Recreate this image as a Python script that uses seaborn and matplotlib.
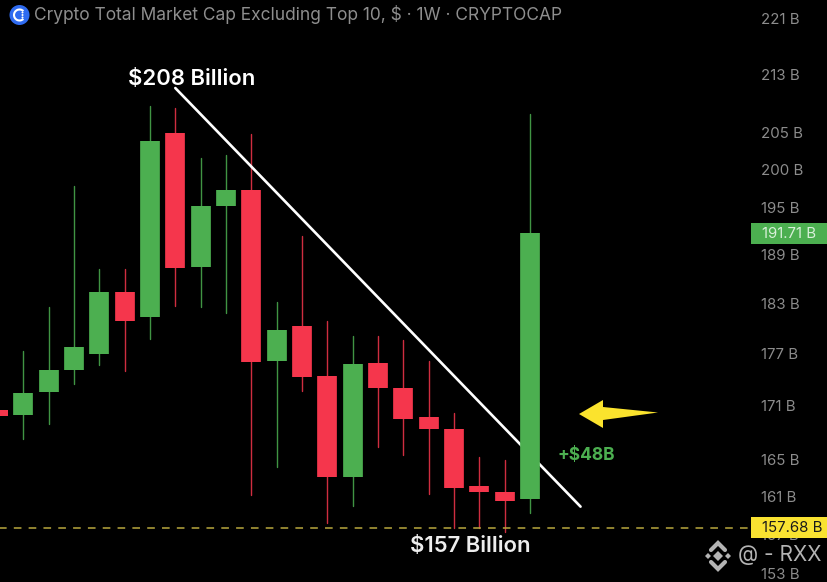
import matplotlib

matplotlib.use("Agg")
import matplotlib.pyplot as plt
import pandas as pd
import seaborn as sns
from matplotlib.patches import Arc, Circle, Polygon, Rectangle
from matplotlib.transforms import Affine2D

# weekly candles, values in billions of USD
weeks = list(range(22))
opens = [170.5, 169.9, 172.5, 175.1, 177.0, 184.4, 181.3, 204.9, 187.4, 195.2, 197.3,
         176.1, 180.3, 174.4, 163.1, 175.9, 173.0, 169.7, 168.3, 162.1, 161.5, 160.7]
closes = [169.8, 172.4, 175.1, 177.8, 184.4, 180.9, 203.8, 187.3, 195.2, 197.3, 176.0,
          179.8, 174.3, 163.1, 175.8, 173.0, 169.5, 168.3, 161.9, 161.5, 160.5, 191.7]
highs = [170.5, 177.3, 182.5, 197.8, 187.2, 187.2, 208.6, 208.3, 201.5, 201.9, 204.8,
         183.2, 191.4, 180.9, 179.1, 179.1, 178.6, 176.1, 170.1, 165.3, 164.9, 207.5]
lows = [169.8, 167.2, 168.9, 173.4, 175.6, 175.0, 178.7, 182.7, 182.5, 181.8, 161.1,
        164.2, 172.6, 158.2, 160.0, 166.4, 165.5, 161.3, 157.7, 157.7, 157.2, 159.2]

tick_values = [221, 213, 205, 200, 195, 189, 183, 177, 171, 165, 161, 157, 153]
tick_labels = [f"{v} B" for v in tick_values]
last_price = 191.71
support_price = 157.68
trend_weeks = [7, 23.0]
trend_values = [211.1, 159.9]

GREEN = "#4CAF50"
RED = "#F5364C"

candles = pd.DataFrame({"week": weeks, "open": opens, "close": closes, "high": highs, "low": lows})
candles["side"] = ["up" if c > o else "down" for o, c in zip(opens, closes)]
palette = {"up": GREEN, "down": RED}

wicks = candles.melt(id_vars=["week", "side"], value_vars=["low", "high"], value_name="price")
bodies = candles.melt(id_vars=["week", "side"], value_vars=["open", "close"], value_name="price")

sns.set_theme(style="dark", rc={"axes.facecolor": "black", "figure.facecolor": "black"})
plt.rcParams["font.family"] = ["Inter", "DejaVu Sans"]

fig = plt.figure(figsize=(8.28, 5.82), dpi=100)
ax = fig.add_axes([-20 / 828, 0, 848 / 828, 1])
# pixels from the top left corner, for the overlays drawn on the screenshot
px = Affine2D().scale(1, -1).translate(0, 582)

ax.set_yscale("log")
sns.lineplot(data=wicks, x="week", y="price", hue="side", palette=palette, units="week",
             estimator=None, linewidth=1.0, legend=False, ax=ax, zorder=2, alpha=0.85)
sns.lineplot(data=bodies, x="week", y="price", hue="side", palette=palette, units="week",
             estimator=None, linewidth=14.2, legend=False, ax=ax, zorder=4,
             solid_capstyle="butt")
# a line centred off the canvas gets dropped, so the cut off first candle is a bar
ax.bar(weeks[0], opens[0] - closes[0], bottom=closes[0], width=0.78, color=RED, linewidth=0, zorder=4)

ax.plot(trend_weeks, trend_values, color="white", linewidth=1.9, zorder=3, solid_capstyle="round")
ax.axhline(support_price, color="#B8A83E", linewidth=1.1, dashes=(5, 4.7), zorder=3)

ax.set_xlim(-0.711, 32.77)
ax.set_ylim(152.1, 223.8)
ax.set_xlabel("")
ax.set_ylabel("")
ax.set_xticks([])
ax.set_yticks(tick_values, tick_labels)
ax.minorticks_off()
ax.yaxis.tick_right()
ax.tick_params(axis="y", length=0, pad=-48, labelsize=10.8, labelcolor="#8C8C8C")
ax.grid(False)
for spine in ax.spines.values():
    spine.set_visible(False)

# price tags on the axis
ax.add_patch(Rectangle((751, 223), 77, 21, transform=px, facecolor=GREEN, edgecolor="none",
                       zorder=6, clip_on=False))
ax.text(762, 233.5, f"{last_price:.2f} B", transform=px, color="#D8EFD9", fontsize=10.8,
        va="center", zorder=7)
ax.add_patch(Rectangle((751, 517), 77, 21, transform=px, facecolor="#F9E231", edgecolor="none",
                       zorder=6, clip_on=False))
ax.text(762, 527.5, f"{support_price:.2f} B", transform=px, color="#1A1A1A", fontsize=10.8,
        va="center", zorder=7)

# header
ax.add_patch(Circle((19.5, 15), 10, transform=px, facecolor="#2F6BF0", edgecolor="none", zorder=6))
ax.add_patch(Arc((19.5, 15), 11, 11, theta1=45, theta2=315, transform=px, edgecolor="white",
                 linewidth=1.5, zorder=7))
for dot_y in [12.5, 15, 17.5]:
    ax.add_patch(Circle((22.5, dot_y), 1, transform=px, facecolor="white", edgecolor="none", zorder=7))
ax.text(34, 14.5, "Crypto Total Market Cap Excluding Top 10, $ · 1W · CRYPTOCAP", transform=px,
        color="#8E8E8E", fontsize=12.5, va="center", zorder=7)

# annotations
ax.text(192, 79, "$208 Billion", transform=px, color="white", fontsize=15.9, fontweight="semibold",
        ha="center", va="center", zorder=7)
ax.text(470.5, 545.5, "$157 Billion", transform=px, color="#EDEDED", fontsize=15.9, fontweight="semibold",
        ha="center", va="center", zorder=7)
ax.text(586.5, 455.5, "+$48B", transform=px, color=GREEN, fontsize=12.5, fontweight="bold",
        ha="center", va="center", zorder=7)
ax.add_patch(Polygon([(579, 414), (603, 400), (603, 407), (658, 412.5), (603, 420), (603, 428)],
                     transform=px, facecolor="#FBE32D", edgecolor="none", zorder=7))

# watermark
mark_color = "#B4B4B4"
for x0, y0, r in [(718, 556, 5), (708, 556, 3), (728, 556, 3)]:
    ax.add_patch(Polygon([(x0, y0 - r), (x0 + r, y0), (x0, y0 + r), (x0 - r, y0)],
                         transform=px, facecolor=mark_color, edgecolor="none", zorder=7))
ax.plot([711, 718, 725], [550, 543, 550], transform=px, color=mark_color, linewidth=3, zorder=7,
        solid_joinstyle="miter")
ax.plot([711, 718, 725], [562, 569, 562], transform=px, color=mark_color, linewidth=3, zorder=7,
        solid_joinstyle="miter")
ax.text(738, 555, "@ - RXX", transform=px, color="#B4B4B4", fontsize=15, va="center", zorder=7)

fig.savefig("out.png", dpi=100, facecolor="black")
